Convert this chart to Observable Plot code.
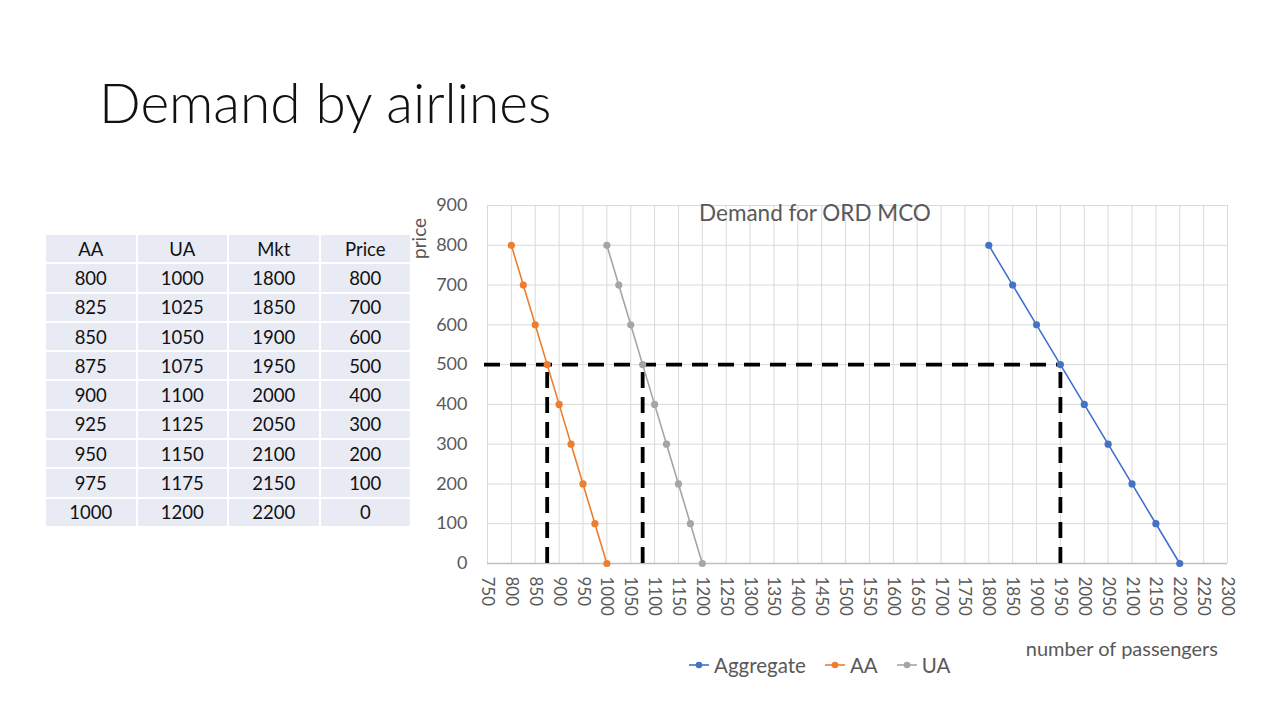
<!DOCTYPE html>
<html>
<head>
<meta charset="utf-8">
<script src="https://cdn.jsdelivr.net/npm/d3@7"></script>
<script src="https://cdn.jsdelivr.net/npm/@observablehq/plot@0.6"></script>
<style>
  html, body { margin: 0; padding: 0; background: #fff; }
  body { width: 1280px; height: 720px; position: relative; overflow: hidden; font-family: Lato, "Open Sans", sans-serif; }
  #title { position: absolute; left: 99px; top: 69px; font-size: 55px; font-weight: 300; color: #111; white-space: nowrap; line-height: 1.2; }
  #tbl { position: absolute; left: 44px; top: 233px; border-collapse: collapse; }
  #tbl td { width: 89.5px; height: 27.3px; padding: 0; text-align: center; font-size: 18.5px; color: #111; background: #e9ebf4; border: 2px solid #fff; }
  #chart { position: absolute; left: 410px; top: 190px; }
  #chartTitle { position: absolute; left: 615px; width: 400px; top: 199px; text-align: center; font-size: 22.5px; color: #595959; }
  #ylab { position: absolute; left: 407px; top: 221px; font-size: 19px; color: #595959; transform-origin: left top; transform: rotate(-90deg) translate(-38px, 0); }
  #xlab { position: absolute; right: 62px; top: 636px; font-size: 20px; color: #595959; }
  #legend { position: absolute; left: 688px; top: 653px; display: flex; gap: 18px; font-size: 20.5px; color: #595959; align-items: center; }
  #legend span.item { display: flex; align-items: center; gap: 4px; }
</style>
</head>
<body>
<div id="title">Demand by airlines</div>
<table id="tbl"></table>
<div id="chart"></div>
<div id="chartTitle">Demand for ORD MCO</div>
<div id="ylab">price</div>
<div id="xlab">number of passengers</div>
<div id="legend"></div>
<script>
// Data
const AA    = [800, 825, 850, 875, 900, 925, 950, 975, 1000];
const UA    = [1000, 1025, 1050, 1075, 1100, 1125, 1150, 1175, 1200];
const Mkt   = [1800, 1850, 1900, 1950, 2000, 2050, 2100, 2150, 2200];
const Price = [800, 700, 600, 500, 400, 300, 200, 100, 0];
const tableHeaders = ["AA", "UA", "Mkt", "Price"];
const xTicks = [750, 800, 850, 900, 950, 1000, 1050, 1100, 1150, 1200, 1250, 1300, 1350, 1400, 1450, 1500, 1550, 1600, 1650, 1700, 1750, 1800, 1850, 1900, 1950, 2000, 2050, 2100, 2150, 2200, 2250, 2300];
const yTicks = [0, 100, 200, 300, 400, 500, 600, 700, 800, 900];
const eqPrice = 500;

const seriesNames = ["Aggregate", "AA", "UA"];
const seriesColors = ["#4472c4", "#ed7d31", "#a5a5a5"];

// Table
const tbl = document.getElementById("tbl");
const hr = tbl.insertRow();
tableHeaders.forEach(h => { const c = hr.insertCell(); c.textContent = h; });
Price.forEach((p, i) => {
  const r = tbl.insertRow();
  [AA[i], UA[i], Mkt[i], p].forEach(v => { const c = r.insertCell(); c.textContent = v; });
});

// Long data
const rows = [];
Price.forEach((p, i) => {
  rows.push({series: "Aggregate", q: Mkt[i], p});
  rows.push({series: "AA", q: AA[i], p});
  rows.push({series: "UA", q: UA[i], p});
});

const ei = Price.indexOf(eqPrice);
const eqQ = [AA[ei], UA[ei], Mkt[ei]];

const chart = Plot.plot({
  width: 830,
  height: 433,
  marginLeft: 77,
  marginRight: 13,
  marginTop: 15,
  marginBottom: 60,
  style: { fontFamily: "Lato, 'Open Sans', sans-serif", fontSize: "17px", color: "#595959", overflow: "visible" },
  x: { domain: [750, 2300], ticks: xTicks },
  y: { domain: [0, 900], ticks: yTicks },
  color: { domain: seriesNames, range: seriesColors },
  marks: [
    Plot.gridX(xTicks, { stroke: "#d9d9d9", strokeOpacity: 1, strokeWidth: 1 }),
    Plot.gridY(yTicks, { stroke: "#d9d9d9", strokeOpacity: 1, strokeWidth: 1 }),
    Plot.ruleY([0], { stroke: "#bfbfbf", strokeWidth: 1.5 }),
    Plot.ruleY([eqPrice], { x1: xTicks[0], x2: Mkt[ei], insetLeft: -3, stroke: "#000", strokeWidth: 3.8, strokeDasharray: "16,10" }),
    Plot.ruleX(eqQ, { y1: 0, y2: eqPrice, stroke: "#000", strokeWidth: 3.8, strokeDasharray: "16,9" }),
    Plot.line(rows, { x: "q", y: "p", z: "series", stroke: "series", strokeWidth: 1.6 }),
    Plot.dot(rows, { x: "q", y: "p", fill: "series", r: 3.6 }),
    Plot.axisX(xTicks, { tickSize: 0, tickPadding: 13, tickRotate: 90, fontSize: 17, fill: "#595959", label: null, tickFormat: d => String(d) }),
    Plot.axisY(yTicks, { tickSize: 0, tickPadding: 20, fontSize: 18, fill: "#595959", label: null, tickFormat: d => String(d) })
  ]
});
document.getElementById("chart").appendChild(chart);

// Legend
const legend = document.getElementById("legend");
seriesNames.forEach((name, i) => {
  const item = document.createElement("span");
  item.className = "item";
  item.innerHTML = `<svg width="22" height="10"><line x1="1" y1="5" x2="21" y2="5" stroke="${seriesColors[i]}" stroke-width="1.6"/><circle cx="11" cy="5" r="3.3" fill="${seriesColors[i]}"/></svg><span>${name}</span>`;
  legend.appendChild(item);
});
</script>
</body>
</html>
